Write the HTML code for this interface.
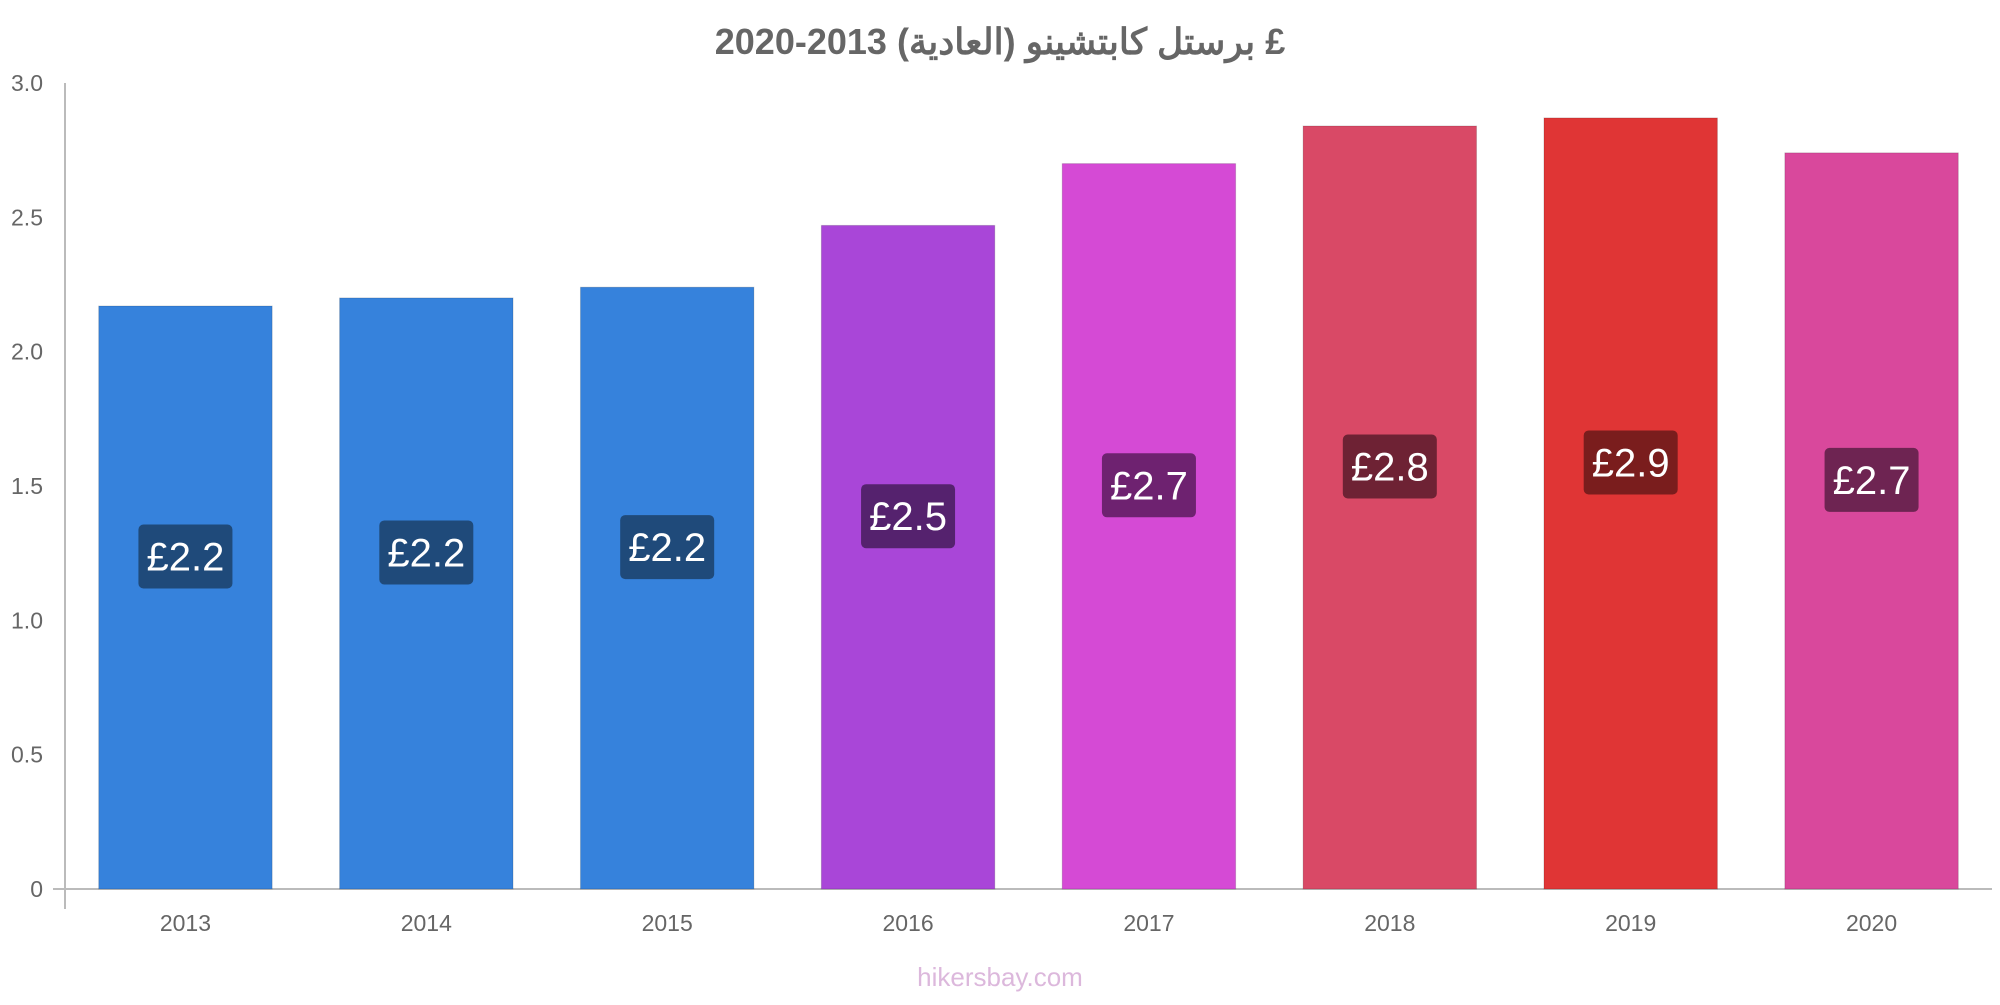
<!DOCTYPE html>
<html><head><meta charset="utf-8"><style>
body{margin:0;background:#fff;}
svg text{font-family:"Liberation Sans",sans-serif;}
</style></head><body>
<svg id="chart" width="2000" height="1000" xmlns="http://www.w3.org/2000/svg">
<text x="1000" y="54" text-anchor="middle" font-size="36" font-weight="bold" fill="#666">برستل كابتشينو (العادية) 2013-2020 £</text>
<g id="axes"></g>
<g id="bars"></g>
<text x="1000" y="986" text-anchor="middle" font-size="26" fill="#dcb8dc">hikersbay.com</text>
</svg>
<script>
const categories=["2013","2014","2015","2016","2017","2018","2019","2020"];
const values=[2.17,2.2,2.24,2.47,2.7,2.84,2.87,2.74];
const labels=["£2.2","£2.2","£2.2","£2.5","£2.7","£2.8","£2.9","£2.7"];
const colors=["#3682dc","#3682dc","#3682dc","#a946d8","#d54ad5","#d94966","#e03535","#d9489c"];
const labelColors=["#1f4a7a","#1f4a7a","#1f4a7a","#55226e","#6e2270","#6e2234","#7a1d1d","#6e2452"];
const yTicks=[0,0.5,1.0,1.5,2.0,2.5,3.0];
const yTickLabels=["0","0.5","1.0","1.5","2.0","2.5","3.0"];
const NS="http://www.w3.org/2000/svg";
const x0=65,x1=1992,yBase=889,yTop=83,yMax=3;
const y=v=>yBase-(v/yMax)*(yBase-yTop);
const bw=(x1-x0)/categories.length;
const xc=i=>x0+bw*(i+0.5);
function mk(tag,attrs,parent){const e=document.createElementNS(NS,tag);for(const k in attrs)e.setAttribute(k,attrs[k]);parent.appendChild(e);return e;}
const axes=document.getElementById('axes'),bars=document.getElementById('bars');
yTicks.forEach((t,i)=>{
 const tx=mk('text',{x:43,y:y(t)+8,'text-anchor':'end','font-size':23,fill:'#666'},axes);
 tx.textContent=yTickLabels[i];
 
 
});
const yl=mk('line',{x1:x0,y1:yTop,x2:x0,y2:yBase+20,stroke:'#bbb','stroke-width':2},axes);


const xl=mk('line',{x1:x0-12,y1:yBase,x2:x1,y2:yBase,stroke:'#bbb','stroke-width':2},axes);


categories.forEach((c,i)=>{
 const w=bw*0.72, cx=xc(i), top=y(values[i]);
 const r=mk('rect',{x:cx-w/2,y:top,width:w,height:yBase-top,fill:colors[i],stroke:'rgba(0,0,0,0.15)','stroke-width':1},bars);
 
 
 const ly=(top+yBase)/2-41;
 const g=mk('g',{},bars);
 
 
 mk('rect',{x:cx-47,y:ly-32,width:94,height:64,rx:5,fill:labelColors[i]},g);
 const t=mk('text',{x:cx,y:ly+14,'text-anchor':'middle','font-size':40,fill:'#fff'},g);
 t.textContent=labels[i];
 const xt=mk('text',{x:cx,y:931,'text-anchor':'middle','font-size':23,fill:'#666'},axes);
 xt.textContent=c;
 
 
});
</script>
</body></html>
